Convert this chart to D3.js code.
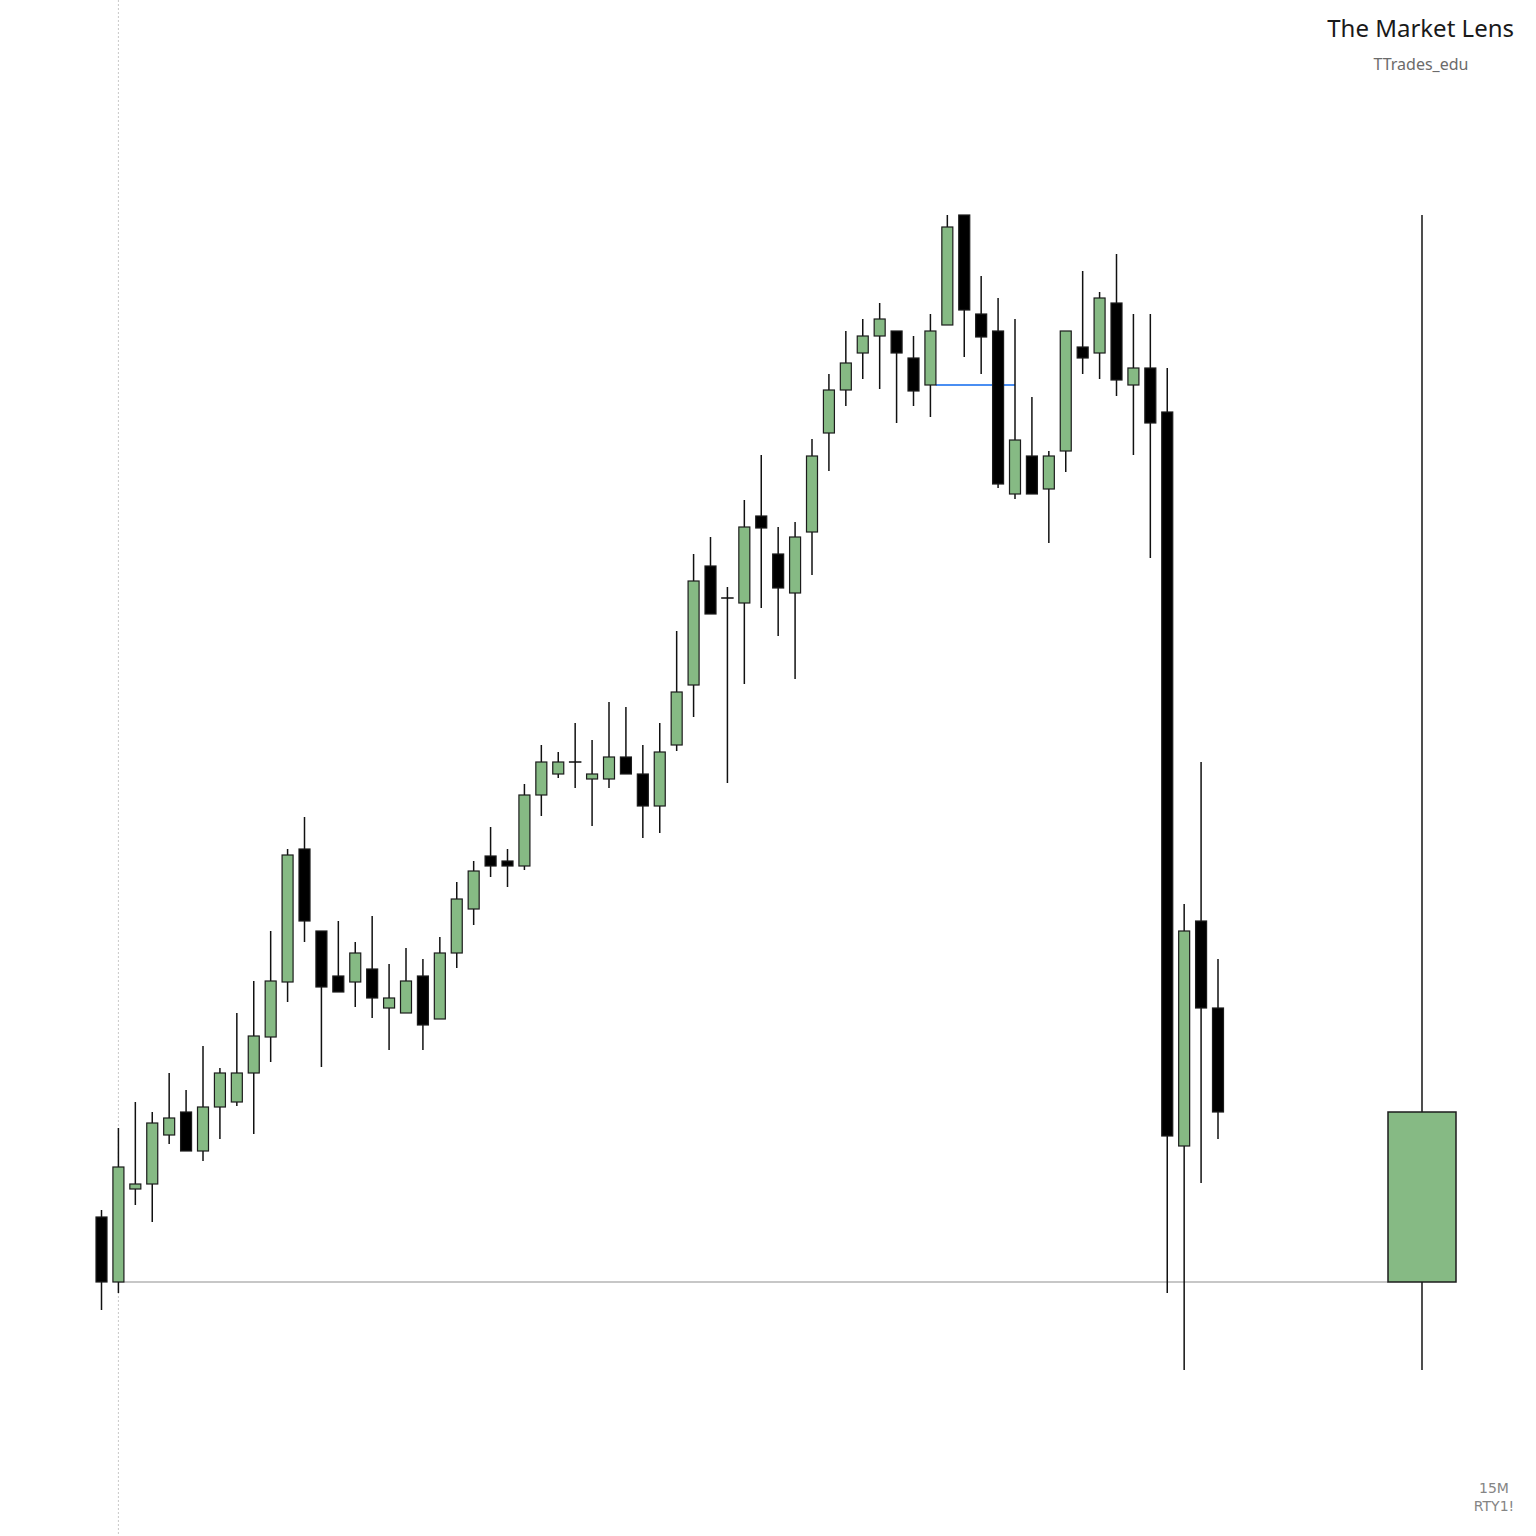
<!DOCTYPE html>
<html>
<head>
<meta charset="utf-8">
<script src="https://cdn.jsdelivr.net/npm/d3@7"></script>
<style>
  html, body { margin: 0; padding: 0; background: #ffffff; }
  svg { display: block; }
</style>
</head>
<body>
<script>
// ---- DATA (candles, RTY1!) ----
const opens  = [2078.3,2071.8,2081.1,2081.6,2086.5,2088.8,2084.9,2089.3,2089.8,2092.7,2096.3,2101.8,2115.1,2106.9,2102.4,2101.8,2103.1,2099.2,2098.7,2102.4,2098.1,2104.7,2109.1,2114.4,2113.9,2113.4,2120.5,2122.6,2123.8,2122.1,2122.1,2124.3,2122.6,2119.4,2125.5,2131.5,2143.4,2140.2,2139.7,2148.4,2144.6,2140.7,2146.8,2156.7,2161.0,2164.7,2166.4,2166.9,2164.2,2161.5,2167.5,2178.5,2168.6,2166.9,2150.6,2154.4,2151.1,2154.9,2165.3,2164.7,2169.7,2161.5,2163.2,2158.8,2085.4,2107.9,2099.2];
const highs  = [2079.0,2087.2,2089.8,2088.8,2092.7,2091.0,2095.4,2093.2,2098.7,2101.9,2106.9,2115.1,2118.3,2106.9,2107.9,2105.8,2108.4,2103.6,2105.2,2104.1,2106.3,2111.8,2113.9,2117.3,2115.1,2121.6,2125.5,2124.8,2127.7,2126.0,2129.8,2129.3,2125.5,2127.7,2136.9,2144.6,2146.3,2141.3,2150.0,2154.5,2147.3,2147.8,2156.1,2162.6,2166.9,2168.1,2169.7,2166.9,2166.4,2168.6,2178.5,2178.5,2172.4,2170.2,2168.1,2160.3,2154.9,2166.9,2172.9,2170.8,2174.6,2168.6,2168.6,2163.2,2109.6,2123.8,2104.1];
const lows   = [2069.0,2070.7,2079.5,2077.8,2085.6,2084.9,2083.9,2086.1,2089.4,2086.6,2093.8,2099.8,2105.8,2093.3,2100.8,2099.3,2098.2,2095.0,2098.7,2095.0,2098.1,2103.2,2107.5,2112.3,2111.3,2113.0,2118.4,2122.2,2121.2,2117.4,2121.2,2122.6,2116.2,2116.7,2124.9,2128.3,2138.6,2121.7,2131.6,2139.2,2136.4,2132.1,2142.5,2152.9,2159.4,2162.1,2161.1,2157.7,2159.4,2158.3,2167.5,2164.3,2162.6,2151.2,2150.1,2150.6,2145.7,2152.8,2162.6,2162.1,2160.4,2154.5,2144.2,2070.7,2063.0,2081.7,2086.1];
const closes = [2071.8,2083.3,2081.6,2087.7,2088.2,2084.9,2089.3,2092.7,2092.7,2096.4,2101.9,2114.5,2107.9,2101.3,2100.8,2104.7,2100.2,2100.2,2101.9,2097.5,2104.7,2110.1,2112.9,2113.4,2113.4,2120.5,2123.8,2123.8,2123.8,2122.6,2124.3,2122.6,2119.4,2124.8,2130.8,2141.9,2138.6,2140.2,2147.3,2147.2,2141.2,2146.3,2154.4,2161.0,2163.7,2166.4,2168.1,2164.7,2160.9,2166.9,2177.3,2169.0,2166.3,2151.6,2156.0,2150.6,2154.4,2166.9,2164.2,2170.2,2162.0,2163.2,2157.7,2086.4,2106.9,2099.2,2088.8];

const sessionStart = 1;             // index where the 15M candle begins
const levelFrom = 49, levelTo = 54; // blue level: open of candle 50 extended to candle 55
const titleText = "The Market Lens";
const subtitleText = "TTrades_edu";
const tfLabel = "15M";
const symbolLabel = "RTY1!";

// ---- SETUP ----
const W = 1536, H = 1536;
const svg = d3.select("body").append("svg").attr("width", W).attr("height", H);

const candles = opens.map((o, i) => ({ i, o, h: highs[i], l: lows[i], c: closes[i] }));

const x = d3.scaleLinear().domain([0, candles.length - 1]).range([101.5, 1218]);
const y = d3.scaleLinear().domain([2046.4, 2200]).range([1536, 0]);
const bodyW = 11;

const GREEN = "#86ba84";
const EDGE = "#1c1c1c";

// aggregated higher-timeframe candle
const sess = candles.slice(sessionStart);
const agg = {
  o: sess[0].o,
  h: d3.max(sess, d => d.h),
  l: d3.min(sess, d => d.l),
  c: sess[sess.length - 1].c
};
const aggX0 = 1388, aggX1 = 1456, aggXc = (aggX0 + aggX1) / 2;

// dotted session separator
svg.append("line")
  .attr("x1", x(sessionStart)).attr("x2", x(sessionStart))
  .attr("y1", 0).attr("y2", H)
  .attr("stroke", "#c8c8c8").attr("stroke-width", 1)
  .attr("stroke-dasharray", "2,2");

// session open line
svg.append("line")
  .attr("x1", x(sessionStart)).attr("x2", aggX0)
  .attr("y1", y(agg.o)).attr("y2", y(agg.o))
  .attr("stroke", "#8f8f8f").attr("stroke-width", 1.2);

// blue level
svg.append("line")
  .attr("x1", x(levelFrom) + bodyW / 2).attr("x2", x(levelTo))
  .attr("y1", y(opens[levelFrom])).attr("y2", y(opens[levelFrom]))
  .attr("stroke", "#4a8ef2").attr("stroke-width", 2);

// wicks
const g = svg.append("g");
g.selectAll("line.wick").data(candles).join("line")
  .attr("class", "wick")
  .attr("x1", d => x(d.i)).attr("x2", d => x(d.i))
  .attr("y1", d => y(d.h)).attr("y2", d => y(d.l))
  .attr("stroke", "#111").attr("stroke-width", 1.5);

// bodies
g.selectAll("rect.body").data(candles).join("rect")
  .attr("class", "body")
  .attr("x", d => x(d.i) - bodyW / 2)
  .attr("width", bodyW)
  .attr("y", d => y(Math.max(d.o, d.c)))
  .attr("height", d => Math.max(0.01, Math.abs(y(d.o) - y(d.c))))
  .attr("fill", d => d.c > d.o ? GREEN : "#000")
  .attr("stroke", d => d.c === d.o ? "#111" : EDGE)
  .attr("stroke-width", d => d.c === d.o ? 1.5 : 1.2);

// aggregated candle
svg.append("line")
  .attr("x1", aggXc).attr("x2", aggXc)
  .attr("y1", y(agg.h)).attr("y2", y(agg.l))
  .attr("stroke", "#222").attr("stroke-width", 1.6);
svg.append("rect")
  .attr("x", aggX0).attr("width", aggX1 - aggX0)
  .attr("y", y(Math.max(agg.o, agg.c)))
  .attr("height", Math.abs(y(agg.o) - y(agg.c)))
  .attr("fill", agg.c > agg.o ? GREEN : "#000")
  .attr("stroke", EDGE).attr("stroke-width", 1.5);

// texts
const FONT = "'Noto Sans', 'DejaVu Sans', sans-serif";
svg.append("text")
  .attr("x", 1514).attr("y", 37)
  .attr("text-anchor", "end")
  .attr("font-family", FONT)
  .attr("font-size", 24)
  .attr("fill", "#1a1a1a")
  .text(titleText);
svg.append("text")
  .attr("x", 1421).attr("y", 70)
  .attr("text-anchor", "middle")
  .attr("font-family", FONT)
  .attr("font-size", 16)
  .attr("fill", "#6b6b6b")
  .text(subtitleText);
const LFONT = "'DejaVu Sans', sans-serif";
svg.append("text")
  .attr("x", 1494).attr("y", 1493)
  .attr("text-anchor", "middle")
  .attr("font-family", LFONT)
  .attr("font-size", 14)
  .attr("fill", "#858585")
  .text(tfLabel);
svg.append("text")
  .attr("x", 1494).attr("y", 1511)
  .attr("text-anchor", "middle")
  .attr("font-family", LFONT)
  .attr("font-size", 14)
  .attr("fill", "#858585")
  .text(symbolLabel);
</script>
</body>
</html>
